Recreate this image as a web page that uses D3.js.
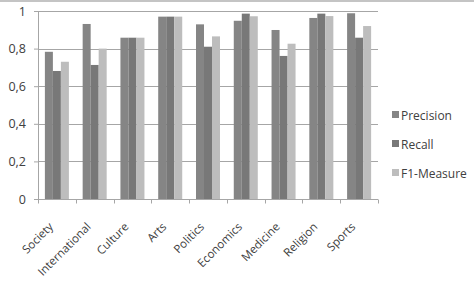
<html>
<head>
<meta charset="utf-8">
<title>Precision / Recall / F1</title>
<style>
  body { margin: 0; background: #fff; }
  text { font-family: "Open Sans", "DejaVu Sans", sans-serif; }
</style>
</head>
<body>
<script src="https://cdn.jsdelivr.net/npm/d3@7"></script>
<script>
    var width = 474;
    var height = 281;

    // data
    var categories = ["Society", "International", "Culture", "Arts", "Politics",
                      "Economics", "Medicine", "Religion", "Sports"];
    var series = ["Precision", "Recall", "F1-Measure"];
    var precision = [0.783, 0.931, 0.858, 0.970, 0.929, 0.948, 0.899, 0.963, 0.988];
    var recall    = [0.681, 0.713, 0.858, 0.970, 0.810, 0.986, 0.761, 0.986, 0.858];
    var f1        = [0.730, 0.800, 0.858, 0.970, 0.865, 0.972, 0.826, 0.973, 0.920];
    var yTicks = [0, 0.2, 0.4, 0.6, 0.8, 1];

    var values = [precision, recall, f1];
    var colors = ["#858585", "#787878", "#bdbdbd"];

    var plotLeft = 38, plotRight = 378, plotTop = 11, plotBottom = 199;

    var svg = d3.select('body')
            .append('svg')
            .attr('width', width)
            .attr('height', height);

    // thin grey frame line at the very top
    svg.append('rect')
            .attr('x', 0).attr('y', 0)
            .attr('width', width).attr('height', 2)
            .attr('fill', '#c4c4c4');

    var x = d3.scaleBand()
            .domain(categories)
            .range([plotLeft, plotRight]);
    var x1 = d3.scaleBand()
            .domain(series)
            .range([0, x.bandwidth()])
            .paddingOuter(0.86);
    var y = d3.scaleLinear()
            .domain([0, 1])
            .range([plotBottom, plotTop]);
    var color = d3.scaleOrdinal()
            .domain(series)
            .range(colors);

    // y axis (comma decimals)
    var yAxis = svg.append('g')
            .attr('transform', 'translate(' + plotLeft + ',0)')
            .call(d3.axisLeft(y).tickValues(yTicks).tickSize(4)
                  .tickFormat(function (d) {
                      return (d === 0 || d === 1) ? String(d) : d3.format('.1f')(d).replace('.', ',');
                  }));
    yAxis.select('.domain').attr('stroke', '#a6a6a6');
    yAxis.selectAll('.tick line').attr('stroke', '#a6a6a6');
    yAxis.selectAll('.tick text')
            .attr('x', -12)
            .attr('fill', '#404040')
            .style('font-size', '12.5px')
            .style('font-family', '"Open Sans", sans-serif');

    // gridlines
    svg.append('g')
            .selectAll('line')
            .data(yTicks.filter(function (d) { return d > 0; }))
            .enter()
            .append('line')
            .attr('x1', plotLeft)
            .attr('x2', plotRight)
            .attr('y1', function (d) { return Math.round(y(d)) + 0.5; })
            .attr('y2', function (d) { return Math.round(y(d)) + 0.5; })
            .attr('stroke', '#a6a6a6');

    // bars
    var groups = svg.append('g')
            .selectAll('g')
            .data(categories)
            .enter()
            .append('g')
            .attr('transform', function (d) { return 'translate(' + x(d) + ',0)'; });

    groups.selectAll('rect')
            .data(function (d, i) {
                return series.map(function (s, j) { return {key: s, value: values[j][i]}; });
            })
            .enter()
            .append('rect')
            .attr('x', function (d) { return x1(d.key); })
            .attr('y', function (d) { return y(d.value); })
            .attr('width', x1.bandwidth())
            .attr('height', function (d) { return y(0) - y(d.value); })
            .attr('fill', function (d) { return color(d.key); });

    // x axis with boundary ticks
    var xAxis = svg.append('g')
            .attr('transform', 'translate(0,' + (plotBottom + 0.5) + ')');
    xAxis.append('line')
            .attr('x1', plotLeft).attr('x2', plotRight)
            .attr('stroke', '#a6a6a6');
    xAxis.selectAll('line.b')
            .data(categories.concat(['end']))
            .enter()
            .append('line')
            .attr('class', 'b')
            .attr('x1', function (d, i) { return Math.round(plotLeft + i * x.step()) + 0.5; })
            .attr('x2', function (d, i) { return Math.round(plotLeft + i * x.step()) + 0.5; })
            .attr('y1', 0).attr('y2', 4)
            .attr('stroke', '#a6a6a6');

    xAxis.selectAll('text')
            .data(categories)
            .enter()
            .append('text')
            .attr('transform', function (d) {
                return 'translate(' + (x(d) + x.bandwidth() / 2 - 3) + ',28) rotate(-45)';
            })
            .attr('text-anchor', 'end')
            .attr('fill', '#404040')
            .style('font-size', '11.5px')
            .text(function (d) { return d; });

    // legend
    var legend = svg.append('g')
            .selectAll('g')
            .data(series)
            .enter()
            .append('g')
            .attr('transform', function (d, i) { return 'translate(392,' + (115 + i * 29) + ')'; });
    legend.append('rect')
            .attr('x', 0).attr('y', -4)
            .attr('width', 7).attr('height', 7)
            .attr('fill', function (d) { return color(d); });
    legend.append('text')
            .attr('x', 9)
            .attr('y', 4.5)
            .attr('fill', '#404040')
            .style('font-size', '12px')
            .text(function (d) { return d; });
</script>
</body>
</html>
